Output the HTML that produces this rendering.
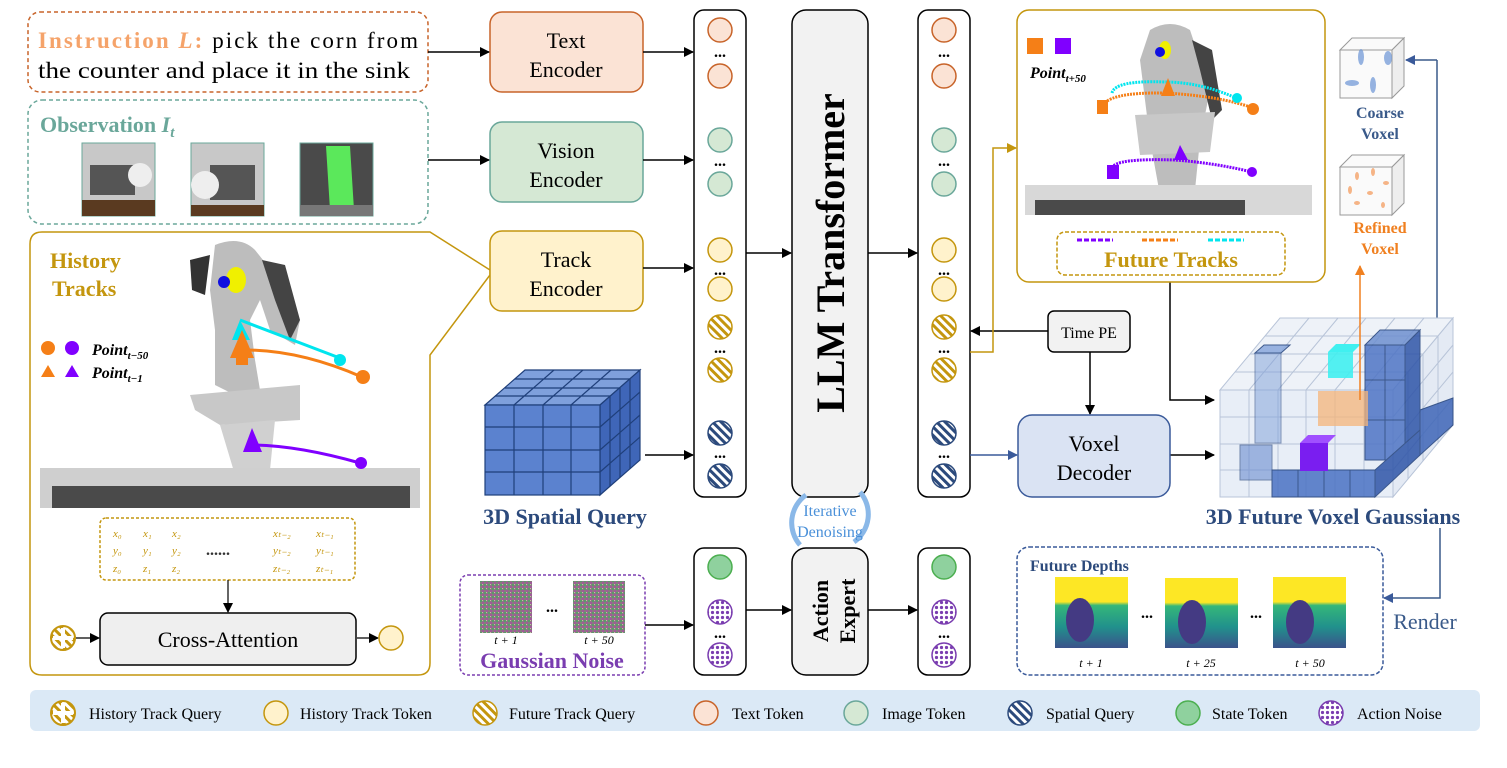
<!DOCTYPE html>
<html><head><meta charset="utf-8"><style>
html,body{margin:0;padding:0;background:#fff}
svg{display:block}
text{font-family:"Liberation Serif",serif}
</style></head><body>
<svg width="1507" height="768" viewBox="0 0 1507 768" xmlns="http://www.w3.org/2000/svg">
<defs>
<marker id="ah" markerWidth="10" markerHeight="10" refX="9" refY="5" orient="auto" markerUnits="userSpaceOnUse"><path d="M0,0 L10,5 L0,10 z" fill="#000"/></marker>
<marker id="ahb" markerWidth="10" markerHeight="10" refX="9" refY="5" orient="auto" markerUnits="userSpaceOnUse"><path d="M0,0 L10,5 L0,10 z" fill="#3a5a9a"/></marker>
<marker id="ahg" markerWidth="10" markerHeight="10" refX="9" refY="5" orient="auto" markerUnits="userSpaceOnUse"><path d="M0,0 L10,5 L0,10 z" fill="#c4960e"/></marker>
<marker id="aho" markerWidth="10" markerHeight="10" refX="9" refY="5" orient="auto" markerUnits="userSpaceOnUse"><path d="M0,0 L10,5 L0,10 z" fill="#f08020"/></marker>
<pattern id="hg" width="6" height="6" patternUnits="userSpaceOnUse" patternTransform="rotate(-45)"><rect width="6" height="6" fill="#fff"/><rect width="3" height="6" fill="#c4960e"/></pattern>
<pattern id="hb" width="6" height="6" patternUnits="userSpaceOnUse" patternTransform="rotate(-45)"><rect width="6" height="6" fill="#fff"/><rect width="3" height="6" fill="#2c4a7c"/></pattern>
<pattern id="dp" width="5" height="5" patternUnits="userSpaceOnUse"><rect width="5" height="5" fill="#fff"/><circle cx="2.5" cy="2.5" r="1.6" fill="#7a3db0"/></pattern>
<pattern id="nz" width="4" height="4" patternUnits="userSpaceOnUse"><rect width="4" height="4" fill="#8a7a80"/><rect width="2" height="2" fill="#5a9a6a"/><rect x="2" y="2" width="2" height="2" fill="#a05a9a"/><rect x="2" width="1" height="1" fill="#c0c0a0"/></pattern>
<linearGradient id="dep" x1="0" y1="0" x2="0" y2="1"><stop offset="0" stop-color="#fde725"/><stop offset="0.35" stop-color="#fde725"/><stop offset="0.4" stop-color="#35b779"/><stop offset="0.7" stop-color="#21918c"/><stop offset="1" stop-color="#3b528b"/></linearGradient>
</defs>

<!-- Instruction -->
<rect x="28" y="12" width="400" height="80" rx="12" fill="#fff" stroke="#c8642a" stroke-width="1.5" stroke-dasharray="4,3"/>
<text x="38" y="48" font-size="23" textLength="380" lengthAdjust="spacing"><tspan fill="#f5a36a" font-weight="bold">Instruction </tspan><tspan fill="#f5a36a" font-weight="bold" font-style="italic">L</tspan><tspan fill="#f5a36a" font-weight="bold">:</tspan> pick the corn from</text>
<text x="38" y="78" font-size="23" textLength="372" lengthAdjust="spacingAndGlyphs">the counter and place it in the sink</text>

<!-- Observation -->
<rect x="28" y="100" width="400" height="124" rx="14" fill="#fff" stroke="#6aa79a" stroke-width="1.5" stroke-dasharray="4,3"/>
<text x="40" y="132" font-size="22" font-weight="bold" fill="#6aa79a">Observation <tspan font-style="italic">I</tspan><tspan font-size="15" font-style="italic" dy="5">t</tspan></text>
<rect x="82" y="143" width="73" height="73" fill="#c8c8c8" stroke="#6aa79a"/>
<rect x="90" y="165" width="45" height="30" fill="#555"/><rect x="82" y="200" width="73" height="16" fill="#5a3a20"/><circle cx="140" cy="175" r="12" fill="#eee"/>
<rect x="191" y="143" width="73" height="73" fill="#c8c8c8" stroke="#6aa79a"/>
<rect x="210" y="165" width="45" height="35" fill="#555"/><rect x="191" y="205" width="73" height="11" fill="#5a3a20"/><circle cx="205" cy="185" r="14" fill="#eee"/>
<rect x="300" y="143" width="73" height="73" fill="#4a4a4a" stroke="#6aa79a"/>
<path d="M326,146 L350,146 L354,210 L330,210 Z" fill="#5be85b"/><rect x="300" y="205" width="73" height="11" fill="#777"/>

<!-- History Tracks box -->
<path d="M42,232 L430,232 L490,270 L490,275 L430,355 L430,663 Q430,675 418,675 L42,675 Q30,675 30,663 L30,244 Q30,232 42,232 Z" fill="#fff" stroke="#c4960e" stroke-width="1.5"/>
<text x="50" y="268" font-size="22" font-weight="bold" fill="#c4960e">History</text>
<text x="52" y="296" font-size="22" font-weight="bold" fill="#c4960e">Tracks</text>
<path d="M215,245 Q240,235 255,250 L275,275 L300,320 L295,345 L270,330 L260,300 L250,320 L255,360 L260,390 L235,395 L215,385 L215,330 L210,290 Z" fill="#bdbdbd"/>
<path d="M190,260 L210,255 L205,295 L192,290 Z" fill="#333"/>
<path d="M262,260 L285,265 L300,320 L290,340 L275,300 Z" fill="#444"/>
<path d="M190,395 L300,385 L300,420 L220,425 L195,410 Z" fill="#c8c8c8"/>
<path d="M220,425 L275,420 L270,470 L235,475 Z" fill="#d0d0d0"/>
<path d="M40,468 L420,468 L420,508 L40,508 Z" fill="#cfcfcf"/>
<path d="M52,486 L410,486 L410,508 L52,508 Z" fill="#4a4a4a"/>
<ellipse cx="236" cy="280" rx="10" ry="13" fill="#f0f000"/><circle cx="224" cy="282" r="6" fill="#1010e0"/>
<path d="M240,320 L345,360" stroke="#00e5ee" stroke-width="3"/><circle cx="340" cy="360" r="6" fill="#00e5ee"/>
<path d="M240,320 L232,340 L250,340 Z" fill="#00e5ee"/>
<path d="M245,350 Q300,350 362,377" stroke="#f57f17" stroke-width="3" fill="none"/><circle cx="363" cy="377" r="7" fill="#f57f17"/>
<path d="M242,330 L230,358 L254,358 Z" fill="#f57f17"/><rect x="236" y="355" width="12" height="10" fill="#f57f17"/>
<path d="M255,445 Q300,446 360,463" stroke="#8000ff" stroke-width="3" fill="none"/><circle cx="361" cy="463" r="6" fill="#8000ff"/>
<path d="M252,428 L243,452 L262,452 Z" fill="#8000ff"/>
<circle cx="48" cy="348" r="7" fill="#f57f17"/><circle cx="72" cy="348" r="7" fill="#8000ff"/>
<path d="M48,365 L41,377 L55,377 Z" fill="#f57f17"/><path d="M72,365 L65,377 L79,377 Z" fill="#8000ff"/>
<text x="92" y="355" font-size="16" font-weight="bold" font-style="italic">Point<tspan font-size="11" dy="4">t−50</tspan></text>
<text x="92" y="378" font-size="16" font-weight="bold" font-style="italic">Point<tspan font-size="11" dy="4">t−1</tspan></text>

<!-- xyz box -->
<rect x="100" y="518" width="255" height="62" rx="6" fill="#fff" stroke="#c4960e" stroke-width="1.5" stroke-dasharray="3,2"/>
<g font-size="11" font-style="italic" fill="#c4960e">
<text x="113" y="537">x₀</text><text x="143" y="537">x₁</text><text x="172" y="537">x₂</text><text x="273" y="537">xₜ₋₂</text><text x="316" y="537">xₜ₋₁</text>
<text x="113" y="554">y₀</text><text x="143" y="554">y₁</text><text x="172" y="554">y₂</text><text x="273" y="554">yₜ₋₂</text><text x="316" y="554">yₜ₋₁</text>
<text x="113" y="572">z₀</text><text x="143" y="572">z₁</text><text x="172" y="572">z₂</text><text x="273" y="572">zₜ₋₂</text><text x="316" y="572">zₜ₋₁</text>
</g>
<text x="206" y="555" font-size="16" font-weight="bold" fill="#333">......</text>
<line x1="228" y1="580" x2="228" y2="612" stroke="#000" stroke-width="1.2" marker-end="url(#ah)"/>
<rect x="100" y="613" width="256" height="52" rx="8" fill="#efefef" stroke="#000" stroke-width="1.5"/>
<text x="228" y="647" font-size="22" text-anchor="middle">Cross-Attention</text>
<circle cx="63" cy="638" r="12" fill="url(#hg)" stroke="#c4960e" stroke-width="2"/>
<path d="M63,628 v20 M53,638 h20" stroke="#fff" stroke-width="4"/>
<line x1="76" y1="638" x2="99" y2="638" stroke="#000" stroke-width="1.2" marker-end="url(#ah)"/>
<line x1="357" y1="638" x2="378" y2="638" stroke="#000" stroke-width="1.2" marker-end="url(#ah)"/>
<circle cx="391" cy="638" r="12" fill="#fff2cc" stroke="#c4960e" stroke-width="1.5"/>

<!-- Encoders -->
<rect x="490" y="12" width="153" height="80" rx="12" fill="#fbe3d5" stroke="#c8642a" stroke-width="1.5"/>
<text x="566" y="48" font-size="22" text-anchor="middle">Text</text><text x="566" y="77" font-size="22" text-anchor="middle">Encoder</text>
<rect x="490" y="122" width="153" height="80" rx="12" fill="#d5e8d4" stroke="#6aa79a" stroke-width="1.5"/>
<text x="566" y="158" font-size="22" text-anchor="middle">Vision</text><text x="566" y="187" font-size="22" text-anchor="middle">Encoder</text>
<rect x="490" y="231" width="153" height="80" rx="12" fill="#fff2cc" stroke="#c4960e" stroke-width="1.5"/>
<text x="566" y="267" font-size="22" text-anchor="middle">Track</text><text x="566" y="296" font-size="22" text-anchor="middle">Encoder</text>

<g stroke="#000" stroke-width="1.5" fill="none">
<line x1="428" y1="52" x2="489" y2="52" marker-end="url(#ah)"/>
<line x1="428" y1="160" x2="489" y2="160" marker-end="url(#ah)"/>
<line x1="643" y1="52" x2="693" y2="52" marker-end="url(#ah)"/>
<line x1="643" y1="160" x2="693" y2="160" marker-end="url(#ah)"/>
<line x1="643" y1="268" x2="693" y2="268" marker-end="url(#ah)"/>
<line x1="645" y1="455" x2="693" y2="455" marker-end="url(#ah)"/>
<line x1="746" y1="253" x2="791" y2="253" marker-end="url(#ah)"/>
<line x1="868" y1="253" x2="917" y2="253" marker-end="url(#ah)"/>
<line x1="1048" y1="331" x2="971" y2="331" marker-end="url(#ah)"/>
<line x1="1090" y1="352" x2="1090" y2="414" marker-end="url(#ah)"/>
<polyline points="1170,282 1170,400 1214,400" marker-end="url(#ah)"/>
<line x1="1170" y1="455" x2="1214" y2="455" marker-end="url(#ah)"/>
<line x1="645" y1="625" x2="693" y2="625" marker-end="url(#ah)"/>
<line x1="746" y1="610" x2="791" y2="610" marker-end="url(#ah)"/>
<line x1="868" y1="610" x2="917" y2="610" marker-end="url(#ah)"/>
</g>

<!-- Token columns -->
<rect x="694" y="10" width="52" height="487" rx="10" fill="#fff" stroke="#000" stroke-width="1.5"/>
<rect x="918" y="10" width="52" height="487" rx="10" fill="#fff" stroke="#000" stroke-width="1.5"/>
<rect x="694" y="548" width="52" height="127" rx="10" fill="#fff" stroke="#000" stroke-width="1.5"/>
<rect x="918" y="548" width="52" height="127" rx="10" fill="#fff" stroke="#000" stroke-width="1.5"/>
<g id="col">
<circle cx="720" cy="30" r="12" fill="#fbe3d5" stroke="#c8642a" stroke-width="1.5"/>
<circle cx="720" cy="76" r="12" fill="#fbe3d5" stroke="#c8642a" stroke-width="1.5"/>
<circle cx="720" cy="140" r="12" fill="#d5e8d4" stroke="#6aa79a" stroke-width="1.5"/>
<circle cx="720" cy="184" r="12" fill="#d5e8d4" stroke="#6aa79a" stroke-width="1.5"/>
<circle cx="720" cy="250" r="12" fill="#fff2cc" stroke="#c4960e" stroke-width="1.5"/>
<circle cx="720" cy="289" r="12" fill="#fff2cc" stroke="#c4960e" stroke-width="1.5"/>
<circle cx="720" cy="327" r="12" fill="url(#hg)" stroke="#c4960e" stroke-width="1.5"/>
<circle cx="720" cy="370" r="12" fill="url(#hg)" stroke="#c4960e" stroke-width="1.5"/>
<circle cx="720" cy="433" r="12" fill="url(#hb)" stroke="#2c4a7c" stroke-width="1.5"/>
<circle cx="720" cy="476" r="12" fill="url(#hb)" stroke="#2c4a7c" stroke-width="1.5"/>
<circle cx="720" cy="567" r="12" fill="#8fd19e" stroke="#4caf50" stroke-width="1.5"/>
<circle cx="720" cy="612" r="12" fill="url(#dp)" stroke="#7a3db0" stroke-width="1.5"/>
<circle cx="720" cy="655" r="12" fill="url(#dp)" stroke="#7a3db0" stroke-width="1.5"/>
<g font-size="16" font-weight="bold" text-anchor="middle"><text x="720" y="57">...</text><text x="720" y="166">...</text><text x="720" y="275">...</text><text x="720" y="353">...</text><text x="720" y="458">...</text><text x="720" y="638">...</text></g>
</g>
<use href="#col" x="224"/>

<!-- LLM -->
<rect x="792" y="10" width="76" height="487" rx="14" fill="#f2f2f2" stroke="#000" stroke-width="1.5"/>
<text transform="translate(844,253) rotate(-90)" font-size="40" font-weight="bold" text-anchor="middle">LLM Transformer</text>
<rect x="792" y="548" width="76" height="127" rx="14" fill="#f2f2f2" stroke="#000" stroke-width="1.5"/>
<text transform="translate(828,611) rotate(-90)" font-size="22" font-weight="bold" text-anchor="middle">Action</text>
<text transform="translate(855,611) rotate(-90)" font-size="22" font-weight="bold" text-anchor="middle">Expert</text>
<path d="M800,545 A34,34 0 0 1 806,495" stroke="#8ab8e8" stroke-width="5" fill="none"/>
<path d="M860,492 A34,34 0 0 1 854,542" stroke="#8ab8e8" stroke-width="5" fill="none"/>
<text x="830" y="516" font-size="16" fill="#4a90d9" text-anchor="middle">Iterative</text>
<text x="830" y="537" font-size="16" fill="#4a90d9" text-anchor="middle">Denoising</text>

<!-- 3D spatial query cube -->
<g stroke="#1f3f7a" stroke-width="1.2">
<path d="M485,405 L525,370 L640,370 L600,405 Z" fill="#7fa0dc"/>
<path d="M600,405 L640,370 L640,460 L600,495 Z" fill="#3f66b8"/>
<rect x="485" y="405" width="115" height="90" fill="#5b82cf"/>
<path d="M514,405 V495 M543,405 V495 M571,405 V495 M485,427 H600 M485,450 H600 M485,472 H600" fill="none"/>
<path d="M495,396 H610 M505,388 H620 M515,379 H630 M514,405 L554,370 M543,405 L583,370 M571,405 L611,370" fill="none"/>
<path d="M610,396 V486 M620,388 V477 M630,379 V469 M600,427 L640,392 M600,450 L640,415 M600,472 L640,437" fill="none"/>
</g>
<text x="565" y="524" font-size="22" font-weight="bold" fill="#2c4a7c" text-anchor="middle">3D Spatial Query</text>

<!-- Gaussian noise -->
<rect x="460" y="575" width="185" height="100" rx="8" fill="#fff" stroke="#7a3db0" stroke-width="1.5" stroke-dasharray="3,2"/>
<rect x="480" y="581" width="52" height="52" fill="url(#nz)"/><rect x="573" y="581" width="52" height="52" fill="url(#nz)"/>
<text x="552" y="612" font-size="16" font-weight="bold" text-anchor="middle">...</text>
<text x="506" y="644" font-size="12" font-style="italic" text-anchor="middle">t + 1</text>
<text x="599" y="644" font-size="12" font-style="italic" text-anchor="middle">t + 50</text>
<text x="552" y="668" font-size="22" font-weight="bold" fill="#7a3db0" text-anchor="middle">Gaussian Noise</text>

<!-- Time PE, decoder -->
<rect x="1048" y="311" width="82" height="41" rx="6" fill="#f2f2f2" stroke="#000" stroke-width="1.5"/>
<text x="1089" y="338" font-size="16" text-anchor="middle">Time PE</text>
<line x1="970" y1="455" x2="1017" y2="455" stroke="#3a5a9a" stroke-width="1.5" marker-end="url(#ahb)"/>
<rect x="1018" y="415" width="152" height="82" rx="14" fill="#dae3f3" stroke="#3a5a9a" stroke-width="1.5"/>
<text x="1094" y="451" font-size="22" text-anchor="middle">Voxel</text><text x="1094" y="480" font-size="22" text-anchor="middle">Decoder</text>
<polyline points="970,352 993,352 993,148 1016,148" fill="none" stroke="#c4960e" stroke-width="1.5" marker-end="url(#ahg)"/>

<!-- Future tracks box -->
<rect x="1017" y="10" width="308" height="272" rx="12" fill="#fff" stroke="#c4960e" stroke-width="1.5"/>
<path d="M1150,30 Q1170,18 1190,30 L1210,90 L1200,140 L1195,190 L1160,195 L1150,140 L1140,60 Z" fill="#bdbdbd"/>
<path d="M1192,40 L1212,50 L1222,110 L1212,120 L1200,70 Z" fill="#444"/>
<path d="M1135,115 L1215,112 L1210,152 L1140,155 Z" fill="#c8c8c8"/>
<rect x="1025" y="185" width="287" height="30" fill="#d8d8d8"/><rect x="1035" y="200" width="210" height="15" fill="#4a4a4a"/>
<ellipse cx="1165" cy="50" rx="6" ry="9" fill="#f0f000"/><circle cx="1160" cy="52" r="5" fill="#1010e0"/>
<rect x="1027" y="38" width="16" height="16" fill="#f57f17"/><rect x="1055" y="38" width="16" height="16" fill="#8000ff"/>
<text x="1030" y="78" font-size="16" font-weight="bold" font-style="italic">Point<tspan font-size="11" dy="4">t+50</tspan></text>
<path d="M1112,93 Q1115,80 1165,82 Q1200,82 1236,98" stroke="#00e5ee" stroke-width="3" fill="none" stroke-dasharray="2,1"/>
<path d="M1102,108 Q1105,92 1165,93 Q1220,96 1253,108" stroke="#f57f17" stroke-width="3" fill="none" stroke-dasharray="2,1"/>
<circle cx="1237" cy="98" r="5" fill="#00e5ee"/><circle cx="1253" cy="109" r="6" fill="#f57f17"/>
<rect x="1097" y="100" width="11" height="14" fill="#f57f17"/><path d="M1168,78 L1161,96 L1175,96 Z" fill="#f57f17"/>
<path d="M1112,168 Q1115,158 1175,160 Q1215,163 1252,172" stroke="#8000ff" stroke-width="3" fill="none" stroke-dasharray="2,1"/>
<rect x="1107" y="165" width="12" height="14" fill="#8000ff"/><circle cx="1252" cy="172" r="5" fill="#8000ff"/><path d="M1180,145 L1174,160 L1188,160 Z" fill="#8000ff"/>
<rect x="1057" y="232" width="228" height="43" rx="8" fill="#fff" stroke="#c4960e" stroke-width="1.5" stroke-dasharray="4,2"/>
<path d="M1077,240 h36" stroke="#8000ff" stroke-width="3" stroke-dasharray="5,2"/><path d="M1142,240 h36" stroke="#f57f17" stroke-width="3" stroke-dasharray="5,2"/><path d="M1208,240 h36" stroke="#00e5ee" stroke-width="3" stroke-dasharray="5,2"/>
<text x="1171" y="267" font-size="22" font-weight="bold" fill="#c4960e" text-anchor="middle">Future Tracks</text>

<!-- Coarse / refined voxel -->
<g stroke="#999" stroke-width="1" fill="#fafafa">
<path d="M1340,50 L1352,38 L1404,38 L1392,50 Z"/><path d="M1392,50 L1404,38 L1404,86 L1392,98 Z" fill="#eee"/><rect x="1340" y="50" width="52" height="48"/>
<path d="M1340,167 L1352,155 L1404,155 L1392,167 Z"/><path d="M1392,167 L1404,155 L1404,203 L1392,215 Z" fill="#eee"/><rect x="1340" y="167" width="52" height="48"/>
</g>
<g fill="#6b95d6" opacity="0.7"><ellipse cx="1361" cy="57" rx="3" ry="8"/><ellipse cx="1388" cy="58" rx="4" ry="7"/><ellipse cx="1352" cy="83" rx="7" ry="3"/><ellipse cx="1373" cy="85" rx="3" ry="8"/></g>
<g fill="#f5a36a" opacity="0.8"><ellipse cx="1357" cy="176" rx="2" ry="4"/><ellipse cx="1373" cy="172" rx="2" ry="4"/><ellipse cx="1386" cy="183" rx="3" ry="2"/><ellipse cx="1350" cy="190" rx="2" ry="4"/><ellipse cx="1370" cy="193" rx="3" ry="2"/><ellipse cx="1357" cy="203" rx="3" ry="2"/><ellipse cx="1383" cy="205" rx="2" ry="3"/></g>
<text x="1380" y="118" font-size="16" font-weight="bold" fill="#3a5a8a" text-anchor="middle">Coarse</text>
<text x="1380" y="139" font-size="16" font-weight="bold" fill="#3a5a8a" text-anchor="middle">Voxel</text>
<text x="1380" y="233" font-size="16" font-weight="bold" fill="#f08020" text-anchor="middle">Refined</text>
<text x="1380" y="254" font-size="16" font-weight="bold" fill="#f08020" text-anchor="middle">Voxel</text>
<line x1="1437" y1="320" x2="1437" y2="60" stroke="#3a5a8a" stroke-width="1.5"/>
<line x1="1437" y1="60" x2="1406" y2="60" stroke="#3a5a8a" stroke-width="1.5" marker-end="url(#ahb)"/>

<!-- Voxel grid -->
<g stroke="#b8c4d8" stroke-width="1" fill="none">
<path d="M1220,390 L1280,318 L1453,318 L1393,390 Z" fill="#eef2f8"/>
<path d="M1393,390 L1453,318 L1453,425 L1393,497 Z" fill="#e4eaf4"/>
<rect x="1220" y="390" width="173" height="107" fill="#e8eef7"/>
<path d="M1249,390 V497 M1278,390 V497 M1306,390 V497 M1335,390 V497 M1364,390 V497 M1220,417 H1393 M1220,444 H1393 M1220,470 H1393"/>
<path d="M1249,390 L1309,318 M1278,390 L1338,318 M1306,390 L1366,318 M1335,390 L1395,318 M1364,390 L1424,318 M1235,372 H1408 M1250,354 H1423 M1265,336 H1438"/>
<path d="M1408,372 V479 M1423,354 V461 M1438,336 V443 M1393,417 L1453,345 M1393,444 L1453,372 M1393,470 L1453,398"/>
</g>
<g stroke="#1f3f7a" stroke-width="1" opacity="0.85">
<path d="M1255,353 L1264,345 L1290,345 L1281,353 Z" fill="#8aa8dc"/><rect x="1255" y="353" width="26" height="90" fill="#7f9fd8" opacity="0.6"/>
<path d="M1365,345 L1380,330 L1420,330 L1405,345 Z" fill="#6f90d0"/><path d="M1405,345 L1420,330 L1420,440 L1405,455 Z" fill="#2f55a8"/>
<rect x="1365" y="345" width="40" height="115" fill="#4f75c5"/>
<path d="M1420,410 L1453,398 L1453,425 L1420,455 Z" fill="#3f66b8"/>
<rect x="1272" y="470" width="103" height="27" fill="#4a72c4"/>
<path d="M1375,470 L1420,430 L1420,455 L1375,497 Z" fill="#2f55a8"/>
<path d="M1298,470 V497 M1324,470 V497 M1350,470 V497 M1385,345 V460 M1365,380 H1405 M1365,420 H1405"/>
<rect x="1240" y="445" width="32" height="35" fill="#6a8cd0" opacity="0.7"/>
</g>
<path d="M1328,352 L1336,344 L1361,344 L1353,352 Z" fill="#40f0f0"/><rect x="1328" y="352" width="25" height="26" fill="#40f0f0" opacity="0.9"/>
<rect x="1318" y="391" width="50" height="35" fill="#f5b47a" opacity="0.75"/>
<path d="M1300,443 L1308,435 L1336,435 L1328,443 Z" fill="#a050ff"/><rect x="1300" y="443" width="28" height="28" fill="#7a1ef0"/>
<line x1="1360" y1="400" x2="1360" y2="266" stroke="#f08020" stroke-width="1.5" marker-end="url(#aho)"/>
<text x="1333" y="524" font-size="22" font-weight="bold" fill="#2c4a7c" text-anchor="middle">3D Future Voxel Gaussians</text>

<!-- Future depths -->
<rect x="1017" y="547" width="366" height="128" rx="12" fill="#fff" stroke="#3a5a9a" stroke-width="1.5" stroke-dasharray="4,2"/>
<text x="1030" y="571" font-size="16" font-weight="bold" fill="#2c4a7c">Future Depths</text>
<rect x="1055" y="577" width="73" height="71" fill="url(#dep)"/><rect x="1165" y="578" width="73" height="70" fill="url(#dep)"/><rect x="1273" y="577" width="73" height="71" fill="url(#dep)"/>
<ellipse cx="1080" cy="620" rx="14" ry="22" fill="#443a83"/><ellipse cx="1192" cy="622" rx="14" ry="22" fill="#443a83"/><ellipse cx="1300" cy="622" rx="14" ry="22" fill="#443a83"/>
<text x="1147" y="618" font-size="16" font-weight="bold" text-anchor="middle">...</text><text x="1256" y="618" font-size="16" font-weight="bold" text-anchor="middle">...</text>
<text x="1091" y="667" font-size="12" font-style="italic" text-anchor="middle">t + 1</text>
<text x="1201" y="667" font-size="12" font-style="italic" text-anchor="middle">t + 25</text>
<text x="1310" y="667" font-size="12" font-style="italic" text-anchor="middle">t + 50</text>
<polyline points="1440,528 1440,598 1384,598" fill="none" stroke="#3a5a8a" stroke-width="1.5" marker-end="url(#ahb)"/>
<text x="1425" y="629" font-size="22" fill="#3a5a8a" text-anchor="middle">Render</text>

<!-- Legend -->
<rect x="30" y="690" width="1450" height="41" rx="6" fill="#dbe9f6"/>
<g font-size="16">
<circle cx="63" cy="713" r="12" fill="url(#hg)" stroke="#c4960e" stroke-width="2"/><path d="M63,703 v20 M53,713 h20" stroke="#fff" stroke-width="4"/>
<text x="89" y="719">History Track Query</text>
<circle cx="276" cy="713" r="12" fill="#fff2cc" stroke="#c4960e" stroke-width="1.5"/><text x="300" y="719">History Track Token</text>
<circle cx="485" cy="713" r="12" fill="url(#hg)" stroke="#c4960e" stroke-width="1.5"/><text x="509" y="719">Future Track Query</text>
<circle cx="706" cy="713" r="12" fill="#fbe3d5" stroke="#c8642a" stroke-width="1.5"/><text x="732" y="719">Text Token</text>
<circle cx="856" cy="713" r="12" fill="#d5e8d4" stroke="#6aa79a" stroke-width="1.5"/><text x="882" y="719">Image Token</text>
<circle cx="1020" cy="713" r="12" fill="url(#hb)" stroke="#2c4a7c" stroke-width="1.5"/><text x="1046" y="719">Spatial Query</text>
<circle cx="1188" cy="713" r="12" fill="#8fd19e" stroke="#4caf50" stroke-width="1.5"/><text x="1212" y="719">State Token</text>
<circle cx="1331" cy="713" r="12" fill="url(#dp)" stroke="#7a3db0" stroke-width="1.5"/><text x="1357" y="719">Action Noise</text>
</g>
</svg>
</body></html>
